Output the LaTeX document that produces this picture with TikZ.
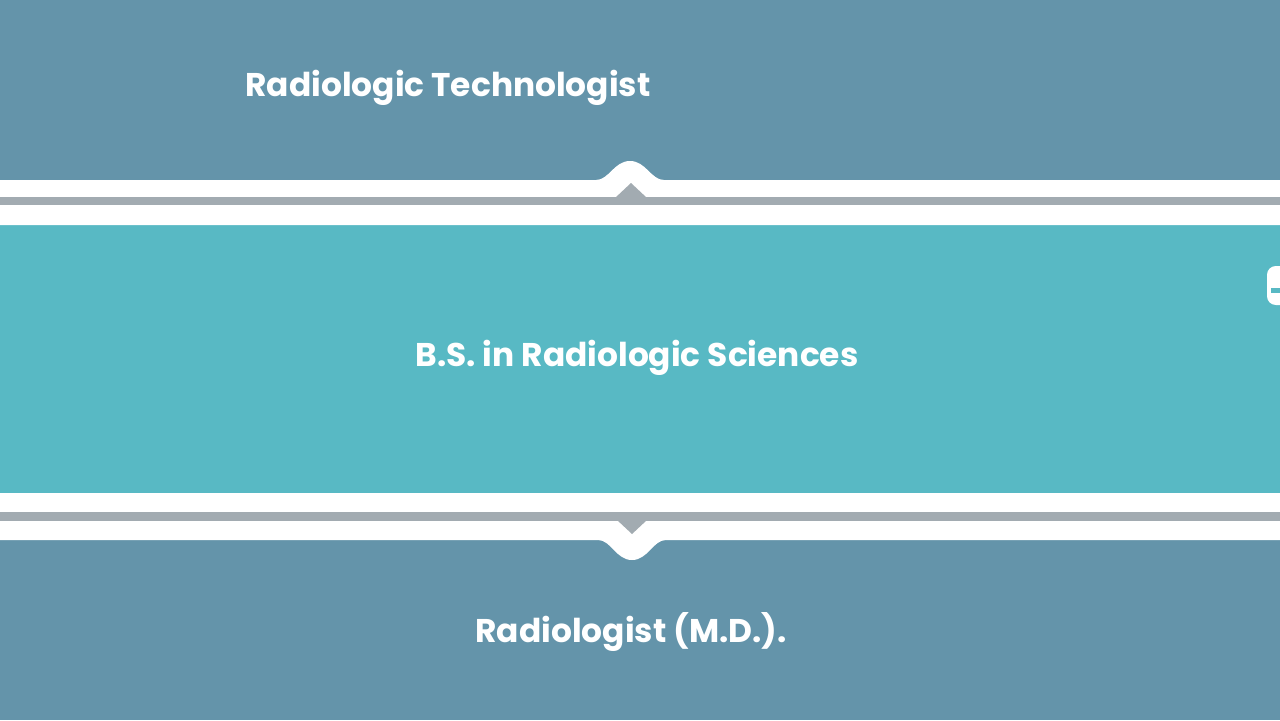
\documentclass[tikz,border=0pt]{standalone}
\usepackage{fontspec}
\setmainfont{Poppins}
\definecolor{slate}{HTML}{6494AA}
\definecolor{tealband}{HTML}{58B9C4}
\definecolor{stripegray}{HTML}{A2ABB1}
\tikzset{
  label text/.style={text=white, inner sep=0pt, anchor=center, font=\bfseries\fontsize{18.7}{22}\selectfont},
  stripe/.style={fill=white, draw=none},
  grayline/.style={fill=stripegray, draw=none},
}
\begin{document}
\begin{tikzpicture}[x=0.02cm, y=-0.02cm]
\useasboundingbox (0,0) rectangle (1280,720);
\clip (0,0) rectangle (1280,720);
% background
\fill[slate] (0,0) rectangle (1280,720);
% middle band
\fill[tealband] (0,224) rectangle (1280,494);
% top stripes with upward bump
\fill[stripe] (0,180) -- (596,180) .. controls (609,180) and (614,161) .. (630,161)
   .. controls (646,161) and (651,180) .. (664,180) -- (1280,180) -- (1280,225) -- (0,225) -- cycle;
\fill[grayline] (0,197) rectangle (1280,205);
\fill[grayline] (615,198) -- (631,183) -- (647,198) -- cycle;
% bottom stripes with downward bump
\fill[stripe] (0,493) -- (1280,493) -- (1280,540) -- (666,540)
   .. controls (653,540) and (648,560) .. (632,560)
   .. controls (616,560) and (611,540) .. (598,540) -- (0,540) -- cycle;
\fill[grayline] (0,512) rectangle (1280,521);
\fill[grayline] (617,520) -- (632,534) -- (647,520) -- cycle;
% right edge mark
\fill[white, rounded corners=5pt] (1267,266) rectangle (1295,305);
\fill[tealband] (1271,288) rectangle (1285,293);
% labels
\node[label text] (tech) at (448,88) {Radiologic Technologist};
\node[label text] (bs) at (637,358) {B.S. in Radiologic Sciences};
\node[label text] (md) at (631,632) {Radiologist (M.D.).};
\end{tikzpicture}
\end{document}
